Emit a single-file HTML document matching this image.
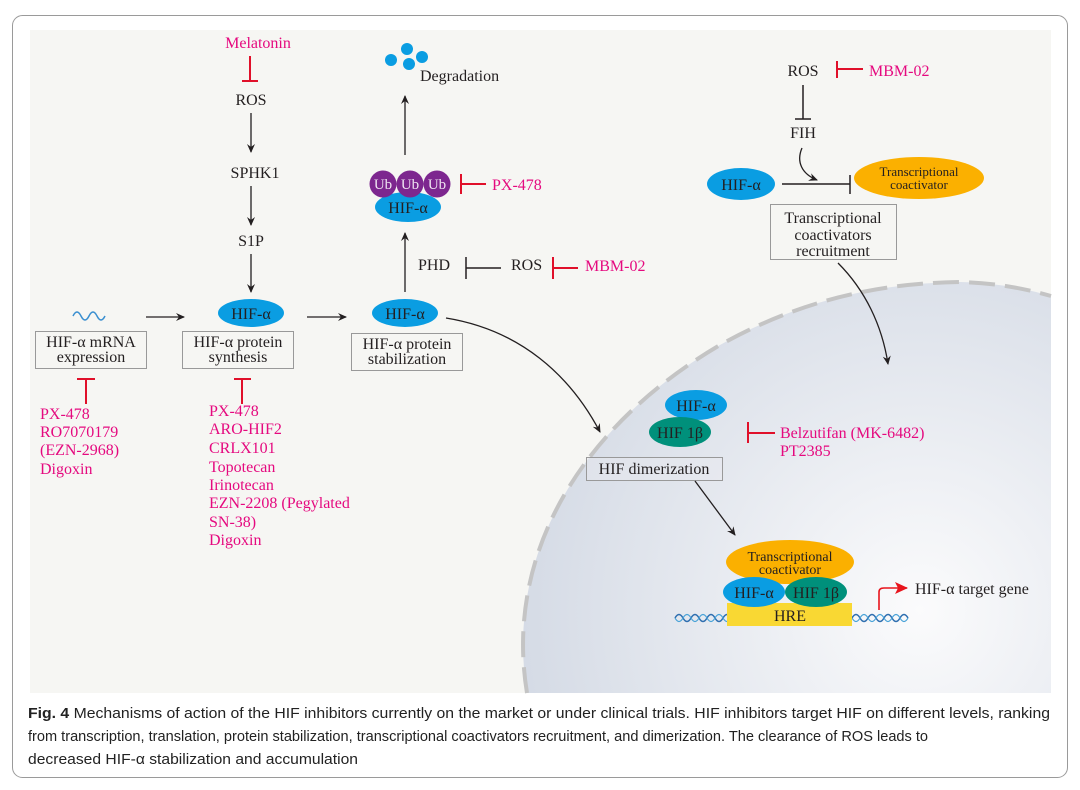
<!DOCTYPE html>
<html><head><meta charset="utf-8"><style>
html,body{margin:0;padding:0;background:#fff}
svg{display:block}
.t{font-family:"Liberation Serif",serif;font-size:16px;fill:#231f20}
.r{font-family:"Liberation Serif",serif;font-size:16px;fill:#e5097f}
.c{font-family:"Liberation Sans Narrow","Liberation Sans",sans-serif;font-size:15px;fill:#222}
</style></head><body>
<svg width="1080" height="790" viewBox="0 0 1080 790" xmlns="http://www.w3.org/2000/svg">
<defs>
<marker id="a" markerWidth="10" markerHeight="10" refX="8" refY="5" orient="auto" markerUnits="userSpaceOnUse"><path d="M0,1 L9,5 L0,9 L3,5 Z" fill="#231f20"/></marker>
<marker id="ar" markerWidth="14" markerHeight="12" refX="12" refY="6" orient="auto" markerUnits="userSpaceOnUse"><path d="M0,0 L13,6 L0,12 L3,6 Z" fill="#e8141c"/></marker>
<radialGradient id="g" cx="920" cy="610" r="460" gradientUnits="userSpaceOnUse"><stop offset="0" stop-color="#fbfbfc"/><stop offset="1" stop-color="#cfd6e2"/></radialGradient>
</defs>
<rect x="12.5" y="15.5" width="1055" height="762" rx="10" fill="#fff" stroke="#9a9a9a"/>
<rect x="30" y="30" width="1021" height="663" fill="#f6f6f3"/>
<path d="M527,693 C505,560 575,430 720,345 C800,300 880,283 960,282 C1000,283 1030,290 1051,296 L1051,693 Z" fill="url(#g)"/>
<path d="M527,693 C505,560 575,430 720,345 C800,300 880,283 960,282 C1000,283 1030,290 1051,296" fill="none" stroke="#c4c4c4" stroke-width="4" stroke-dasharray="26,10"/>

<text class="r" x="258" y="48" text-anchor="middle">Melatonin</text>
<g stroke="#e0102a" stroke-width="2"><line x1="250" y1="56" x2="250" y2="81"/><line x1="242" y1="81" x2="258" y2="81"/></g>
<text class="t" x="251" y="105" text-anchor="middle">ROS</text>
<line x1="251" y1="113" x2="251" y2="152" stroke="#231f20" stroke-width="1.3" marker-end="url(#a)"/>
<text class="t" x="255" y="178" text-anchor="middle">SPHK1</text>
<line x1="251" y1="186" x2="251" y2="225" stroke="#231f20" stroke-width="1.3" marker-end="url(#a)"/>
<text class="t" x="251" y="246" text-anchor="middle">S1P</text>
<line x1="251" y1="254" x2="251" y2="292" stroke="#231f20" stroke-width="1.3" marker-end="url(#a)"/>
<ellipse cx="251" cy="313" rx="33" ry="14" fill="#0a9de2"/>
<text class="t" x="251" y="319" text-anchor="middle">HIF-α</text>
<path d="M73,316 q4,-8 8,0 q4,8 8,0 q4,-8 8,0 q4,8 8,0" fill="none" stroke="#3a8fd0" stroke-width="1.5"/>
<line x1="146" y1="317" x2="184" y2="317" stroke="#231f20" stroke-width="1.3" marker-end="url(#a)"/>
<rect x="35.5" y="331.5" width="111" height="37" fill="none" stroke="#999"/>
<text class="t" x="91" y="347" text-anchor="middle">HIF-α mRNA</text>
<text class="t" x="91" y="362" text-anchor="middle">expression</text>
<rect x="182.5" y="331.5" width="111" height="37" fill="none" stroke="#999"/>
<text class="t" x="238" y="347" text-anchor="middle">HIF-α protein</text>
<text class="t" x="238" y="362" text-anchor="middle">synthesis</text>
<line x1="307" y1="317" x2="346" y2="317" stroke="#231f20" stroke-width="1.3" marker-end="url(#a)"/>
<ellipse cx="405" cy="313" rx="33" ry="14" fill="#0a9de2"/>
<text class="t" x="405" y="319" text-anchor="middle">HIF-α</text>
<rect x="351.5" y="333.5" width="111" height="37" fill="none" stroke="#999"/>
<text class="t" x="407" y="349" text-anchor="middle">HIF-α protein</text>
<text class="t" x="407" y="364" text-anchor="middle">stabilization</text>
<g stroke="#e0102a" stroke-width="2"><line x1="86" y1="379" x2="86" y2="404"/><line x1="77" y1="379" x2="95" y2="379"/><line x1="242" y1="379" x2="242" y2="404"/><line x1="234" y1="379" x2="251" y2="379"/></g>
<text class="r" x="40" y="419">PX-478</text>
<text class="r" x="40" y="437">RO7070179</text>
<text class="r" x="40" y="455">(EZN-2968)</text>
<text class="r" x="40" y="474">Digoxin</text>
<text class="r" x="209" y="416">PX-478</text>
<text class="r" x="209" y="434">ARO-HIF2</text>
<text class="r" x="209" y="453">CRLX101</text>
<text class="r" x="209" y="472">Topotecan</text>
<text class="r" x="209" y="490">Irinotecan</text>
<text class="r" x="209" y="508">EZN-2208 (Pegylated</text>
<text class="r" x="209" y="527">SN-38)</text>
<text class="r" x="209" y="545">Digoxin</text>

<line x1="405" y1="292" x2="405" y2="233" stroke="#231f20" stroke-width="1.3" marker-end="url(#a)"/>
<text class="t" x="418" y="270">PHD</text>
<g stroke="#231f20" stroke-width="1.5"><line x1="466" y1="257" x2="466" y2="279"/><line x1="466" y1="268" x2="501" y2="268"/></g>
<text class="t" x="511" y="270">ROS</text>
<g stroke="#e0102a" stroke-width="2"><line x1="553" y1="257" x2="553" y2="279"/><line x1="553" y1="268" x2="578" y2="268"/></g>
<text class="r" x="585" y="271">MBM-02</text>
<ellipse cx="408" cy="207" rx="33" ry="15" fill="#0a9de2"/>
<circle cx="383" cy="184" r="13.5" fill="#7d278f"/>
<circle cx="410" cy="184" r="13.5" fill="#7d278f"/>
<circle cx="437" cy="184" r="13.5" fill="#7d278f"/>
<g font-family="Liberation Serif,serif" font-size="15" fill="#f0e6f2" text-anchor="middle"><text x="383" y="189">Ub</text><text x="410" y="189">Ub</text><text x="437" y="189">Ub</text></g>
<text class="t" x="408" y="213" text-anchor="middle">HIF-α</text>
<g stroke="#e0102a" stroke-width="2"><line x1="461" y1="174" x2="461" y2="194"/><line x1="461" y1="184" x2="486" y2="184"/></g>
<text class="r" x="492" y="190">PX-478</text>
<line x1="405" y1="155" x2="405" y2="96" stroke="#231f20" stroke-width="1.3" marker-end="url(#a)"/>
<g fill="#0a9de2"><circle cx="391" cy="60" r="6"/><circle cx="407" cy="49" r="6"/><circle cx="409" cy="64" r="6"/><circle cx="422" cy="57" r="6"/></g>
<text class="t" x="420" y="81">Degradation</text>
<path d="M446,318 C520,330 570,375 600,432" fill="none" stroke="#231f20" stroke-width="1.3" marker-end="url(#a)"/>

<text class="t" x="803" y="76" text-anchor="middle">ROS</text>
<g stroke="#e0102a" stroke-width="2"><line x1="837" y1="61" x2="837" y2="78"/><line x1="837" y1="69" x2="863" y2="69"/></g>
<text class="r" x="869" y="76">MBM-02</text>
<g stroke="#231f20" stroke-width="1.5"><line x1="803" y1="85" x2="803" y2="119"/><line x1="795" y1="119" x2="811" y2="119"/></g>
<text class="t" x="803" y="138" text-anchor="middle">FIH</text>
<path d="M802,148 C796,162 802,174 817,180" fill="none" stroke="#231f20" stroke-width="1.3" marker-end="url(#a)"/>
<ellipse cx="741" cy="184" rx="34" ry="16" fill="#0a9de2"/>
<text class="t" x="741" y="190" text-anchor="middle">HIF-α</text>
<g stroke="#231f20" stroke-width="1.5"><line x1="782" y1="184" x2="850" y2="184"/><line x1="850" y1="175" x2="850" y2="194"/></g>
<ellipse cx="919" cy="178" rx="65" ry="21" fill="#fbb000"/>
<g font-family="Liberation Serif,serif" font-size="13" fill="#231f20" text-anchor="middle"><text x="919" y="176">Transcriptional</text><text x="919" y="189">coactivator</text></g>
<rect x="770.5" y="204.5" width="126" height="55" fill="none" stroke="#999"/>
<text class="t" x="833" y="223" text-anchor="middle">Transcriptional</text>
<text class="t" x="833" y="240" text-anchor="middle">coactivators</text>
<text class="t" x="833" y="256" text-anchor="middle">recruitment</text>
<path d="M838,263 C865,290 882,325 888,364" fill="none" stroke="#231f20" stroke-width="1.3" marker-end="url(#a)"/>

<ellipse cx="696" cy="405" rx="31" ry="15" fill="#0a9de2"/>
<text class="t" x="696" y="411" text-anchor="middle">HIF-α</text>
<ellipse cx="680" cy="432" rx="31" ry="15" fill="#00907b"/>
<text class="t" x="680" y="438" text-anchor="middle">HIF 1β</text>
<rect x="586.5" y="457.5" width="136" height="23" fill="#eaecf0" fill-opacity="0.4" stroke="#999"/>
<text class="t" x="654" y="474" text-anchor="middle">HIF dimerization</text>
<g stroke="#e0102a" stroke-width="2"><line x1="748" y1="422" x2="748" y2="443"/><line x1="748" y1="433" x2="775" y2="433"/></g>
<text class="r" x="780" y="438">Belzutifan (MK-6482)</text>
<text class="r" x="780" y="456">PT2385</text>
<line x1="695" y1="481" x2="735" y2="535" stroke="#231f20" stroke-width="1.3" marker-end="url(#a)"/>
<ellipse cx="790" cy="562" rx="64" ry="22" fill="#fbb000"/>
<g font-family="Liberation Serif,serif" font-size="14" fill="#231f20" text-anchor="middle"><text x="790" y="561">Transcriptional</text><text x="790" y="574">coactivator</text></g>
<path d="M675,618 q4,-7 8,0 q4,7 8,0 q4,-7 8,0 q4,7 8,0 q4,-7 8,0 q4,7 8,0 q4,-7 8,0 M852,618 q4,-7 8,0 q4,7 8,0 q4,-7 8,0 q4,7 8,0 q4,-7 8,0 q4,7 8,0 q4,-7 8,0" fill="none" stroke="#2f6fb0" stroke-width="1.5"/>
<path d="M675,618 q4,7 8,0 q4,-7 8,0 q4,7 8,0 q4,-7 8,0 q4,7 8,0 q4,-7 8,0 q4,7 8,0 M852,618 q4,7 8,0 q4,-7 8,0 q4,7 8,0 q4,-7 8,0 q4,7 8,0 q4,-7 8,0 q4,7 8,0" fill="none" stroke="#4aa3d8" stroke-width="1.2"/>
<rect x="727" y="603" width="125" height="23" fill="#f9d833"/>
<ellipse cx="754" cy="592" rx="31" ry="15" fill="#0a9de2"/>
<ellipse cx="816" cy="592" rx="31" ry="15" fill="#00907b"/>
<text class="t" x="754" y="598" text-anchor="middle">HIF-α</text>
<text class="t" x="816" y="598" text-anchor="middle">HIF 1β</text>
<text class="t" x="790" y="621" text-anchor="middle">HRE</text>
<path d="M879,610 L879,592 Q879,588 884,588 L907,588" fill="none" stroke="#e8141c" stroke-width="1.6" marker-end="url(#ar)"/>
<text class="t" x="915" y="594">HIF-α target gene</text>

<text class="c" x="28" y="718" textLength="1022" lengthAdjust="spacingAndGlyphs"><tspan font-weight="bold">Fig. 4</tspan>  Mechanisms of action of the HIF inhibitors currently on the market or under clinical trials. HIF inhibitors target HIF on different levels, ranking</text>
<text class="c" x="28" y="741" textLength="900" lengthAdjust="spacingAndGlyphs">from transcription, translation, protein stabilization, transcriptional coactivators recruitment, and dimerization. The clearance of ROS leads to</text>
<text class="c" x="28" y="764" textLength="330" lengthAdjust="spacingAndGlyphs">decreased HIF-α stabilization and accumulation</text>
</svg>
</body></html>
